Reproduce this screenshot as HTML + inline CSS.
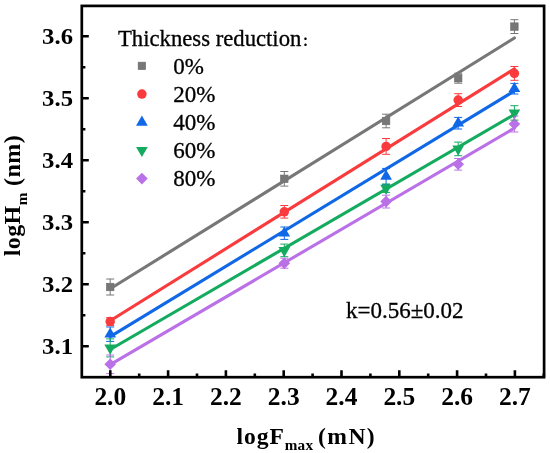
<!DOCTYPE html>
<html><head><meta charset="utf-8"><title>logHm vs logFmax</title>
<style>html,body{margin:0;padding:0;background:#fff}svg{display:block}text{font-family:"Liberation Serif",serif;fill:#000}.b{font-weight:bold}.r{stroke:#000;stroke-width:0.3px}.cj{font-family:"Liberation Sans","Noto Sans CJK SC",sans-serif}</style></head><body>
<svg width="550" height="453" viewBox="0 0 550 453">
<rect width="550" height="453" fill="#fff"/>
<rect x="106.45" y="283.25" width="7.50" height="7.50" fill="#777777" stroke="#6b6b6b" stroke-width="0.6"/>
<rect x="280.55" y="175.05" width="7.50" height="7.50" fill="#777777" stroke="#6b6b6b" stroke-width="0.6"/>
<rect x="382.35" y="117.25" width="7.50" height="7.50" fill="#777777" stroke="#6b6b6b" stroke-width="0.6"/>
<rect x="454.45" y="74.45" width="7.50" height="7.50" fill="#777777" stroke="#6b6b6b" stroke-width="0.6"/>
<rect x="510.65" y="22.85" width="7.50" height="7.50" fill="#777777" stroke="#6b6b6b" stroke-width="0.6"/>
<circle cx="110.20" cy="321.60" r="4.75" fill="#FA3B3D"/>
<circle cx="284.30" cy="211.80" r="4.75" fill="#FA3B3D"/>
<circle cx="386.10" cy="146.40" r="4.75" fill="#FA3B3D"/>
<circle cx="458.20" cy="100.10" r="4.75" fill="#FA3B3D"/>
<circle cx="514.40" cy="73.40" r="4.75" fill="#FA3B3D"/>
<polygon points="110.20,327.40 116.05,337.60 104.35,337.60" fill="#1068E6"/>
<polygon points="284.30,226.40 290.15,236.60 278.45,236.60" fill="#1068E6"/>
<polygon points="386.10,169.60 391.95,179.80 380.25,179.80" fill="#1068E6"/>
<polygon points="458.20,116.40 464.05,126.60 452.35,126.60" fill="#1068E6"/>
<polygon points="514.40,81.90 520.25,92.10 508.55,92.10" fill="#1068E6"/>
<polygon points="110.20,354.70 116.05,344.50 104.35,344.50" fill="#14AB5F"/>
<polygon points="284.30,257.20 290.15,247.00 278.45,247.00" fill="#14AB5F"/>
<polygon points="386.10,195.00 391.95,184.80 380.25,184.80" fill="#14AB5F"/>
<polygon points="458.20,155.70 464.05,145.50 452.35,145.50" fill="#14AB5F"/>
<polygon points="514.40,119.70 520.25,109.50 508.55,109.50" fill="#14AB5F"/>
<polygon points="110.20,358.50 116.00,364.30 110.20,370.10 104.40,364.30" fill="#BA70E6"/>
<polygon points="284.30,257.40 290.10,263.20 284.30,269.00 278.50,263.20" fill="#BA70E6"/>
<polygon points="386.10,195.80 391.90,201.60 386.10,207.40 380.30,201.60" fill="#BA70E6"/>
<polygon points="458.20,158.50 464.00,164.30 458.20,170.10 452.40,164.30" fill="#BA70E6"/>
<polygon points="514.40,118.20 520.20,124.00 514.40,129.80 508.60,124.00" fill="#BA70E6"/>
<path d="M110.20 279.00V295.00M106.20 279.00h8M106.20 295.00h8M284.30 171.50V186.10M280.30 171.50h8M280.30 186.10h8M386.10 114.20V127.80M382.10 114.20h8M382.10 127.80h8M458.20 73.20V83.20M454.20 73.20h8M454.20 83.20h8M514.40 19.70V33.50M510.40 19.70h8M510.40 33.50h8" stroke="#777777" stroke-width="1" fill="none"/>
<path d="M110.20 317.60V325.60M106.20 317.60h8M106.20 325.60h8M284.30 205.50V218.10M280.30 205.50h8M280.30 218.10h8M386.10 138.50V154.30M382.10 138.50h8M382.10 154.30h8M458.20 93.70V106.50M454.20 93.70h8M454.20 106.50h8M514.40 66.50V80.30M510.40 66.50h8M510.40 80.30h8" stroke="#FA3B3D" stroke-width="1" fill="none"/>
<path d="M110.20 327.00V341.40M106.20 327.00h8M106.20 341.40h8M284.30 227.00V239.40M280.30 227.00h8M280.30 239.40h8M386.10 168.40V184.40M382.10 168.40h8M382.10 184.40h8M458.20 117.40V129.00M454.20 117.40h8M454.20 129.00h8M514.40 83.40V94.00M510.40 83.40h8M510.40 94.00h8" stroke="#1068E6" stroke-width="1" fill="none"/>
<path d="M110.20 338.90V356.90M106.20 338.90h8M106.20 356.90h8M284.30 244.10V256.70M280.30 244.10h8M280.30 256.70h8M386.10 184.00V192.40M382.10 184.00h8M382.10 192.40h8M458.20 142.10V155.70M454.20 142.10h8M454.20 155.70h8M514.40 105.70V120.10M510.40 105.70h8M510.40 120.10h8" stroke="#14AB5F" stroke-width="1" fill="none"/>
<path d="M110.20 355.00V373.60M106.20 355.00h8M106.20 373.60h8M284.30 258.20V268.20M280.30 258.20h8M280.30 268.20h8M386.10 195.20V208.00M382.10 195.20h8M382.10 208.00h8M458.20 158.50V170.10M454.20 158.50h8M454.20 170.10h8M514.40 116.00V132.00M510.40 116.00h8M510.40 132.00h8" stroke="#BA70E6" stroke-width="1" fill="none"/>
<line x1="110.20" y1="288.80" x2="514.40" y2="38.00" stroke="#777777" stroke-width="3.1" stroke-linecap="round"/>
<line x1="110.20" y1="320.80" x2="514.40" y2="68.90" stroke="#FA3B3D" stroke-width="3.1" stroke-linecap="round"/>
<line x1="110.20" y1="336.60" x2="514.40" y2="91.00" stroke="#1068E6" stroke-width="3.1" stroke-linecap="round"/>
<line x1="110.20" y1="349.50" x2="514.40" y2="114.50" stroke="#14AB5F" stroke-width="3.1" stroke-linecap="round"/>
<line x1="110.20" y1="364.70" x2="514.40" y2="128.10" stroke="#BA70E6" stroke-width="3.1" stroke-linecap="round"/>
<path d="M110.30 377.2v-7M139.20 377.2v-3.6M168.10 377.2v-7M197.00 377.2v-3.6M225.90 377.2v-7M254.80 377.2v-3.6M283.70 377.2v-7M312.60 377.2v-3.6M341.50 377.2v-7M370.40 377.2v-3.6M399.30 377.2v-7M428.20 377.2v-3.6M457.10 377.2v-7M486.00 377.2v-3.6M514.90 377.2v-7M543.80 377.2v-3.6M81.8 346.30h7M81.8 315.30h3.6M81.8 284.29h7M81.8 253.29h3.6M81.8 222.28h7M81.8 191.28h3.6M81.8 160.27h7M81.8 129.26h3.6M81.8 98.26h7M81.8 67.26h3.6M81.8 36.25h7" stroke="#000" stroke-width="2.6" fill="none"/>
<rect x="81.8" y="5.9" width="462.30" height="371.30" fill="none" stroke="#000" stroke-width="2.7"/>
<text class="b" transform="translate(110.30,404.5) scale(1.04,1)" font-size="24.5" text-anchor="middle">2.0</text>
<text class="b" transform="translate(168.10,404.5) scale(1.04,1)" font-size="24.5" text-anchor="middle">2.1</text>
<text class="b" transform="translate(225.90,404.5) scale(1.04,1)" font-size="24.5" text-anchor="middle">2.2</text>
<text class="b" transform="translate(283.70,404.5) scale(1.04,1)" font-size="24.5" text-anchor="middle">2.3</text>
<text class="b" transform="translate(341.50,404.5) scale(1.04,1)" font-size="24.5" text-anchor="middle">2.4</text>
<text class="b" transform="translate(399.30,404.5) scale(1.04,1)" font-size="24.5" text-anchor="middle">2.5</text>
<text class="b" transform="translate(457.10,404.5) scale(1.04,1)" font-size="24.5" text-anchor="middle">2.6</text>
<text class="b" transform="translate(514.90,404.5) scale(1.04,1)" font-size="24.5" text-anchor="middle">2.7</text>
<text class="b" transform="translate(73.0,354.10) scale(1.03,1)" font-size="24" text-anchor="end">3.1</text>
<text class="b" transform="translate(73.0,292.09) scale(1.03,1)" font-size="24" text-anchor="end">3.2</text>
<text class="b" transform="translate(73.0,230.08) scale(1.03,1)" font-size="24" text-anchor="end">3.3</text>
<text class="b" transform="translate(73.0,168.07) scale(1.03,1)" font-size="24" text-anchor="end">3.4</text>
<text class="b" transform="translate(73.0,106.06) scale(1.03,1)" font-size="24" text-anchor="end">3.5</text>
<text class="b" transform="translate(73.0,44.05) scale(1.03,1)" font-size="24" text-anchor="end">3.6</text>
<text class="b" x="236.6" y="443.6" font-size="23.6" letter-spacing="0.9">logF<tspan font-size="15.2" dy="6" letter-spacing="0.2">max</tspan><tspan dy="-6" dx="-2.4" letter-spacing="1.4"> (mN)</tspan></text>
<text class="b" transform="translate(20,256.3) rotate(-90)" font-size="24" letter-spacing="0.4">logH<tspan font-size="15.2" dy="7">m</tspan><tspan dy="-7"> (nm)</tspan></text>
<text class="r" x="118" y="46" font-size="22.7">Thickness reduction</text><text class="cj" x="302.6" y="46.2" font-size="12" font-weight="900">：</text>
<rect x="138.15" y="62.15" width="7.50" height="7.50" fill="#777777" stroke="#6b6b6b" stroke-width="0.6"/>
<text class="r" x="173.3" y="73.70" font-size="23">0%</text>
<circle cx="141.90" cy="94.10" r="4.75" fill="#FA3B3D"/>
<text class="r" x="173.3" y="101.90" font-size="23">20%</text>
<polygon points="141.90,115.50 147.75,125.70 136.05,125.70" fill="#1068E6"/>
<text class="r" x="173.3" y="130.10" font-size="23">40%</text>
<polygon points="141.90,157.10 147.75,146.90 136.05,146.90" fill="#14AB5F"/>
<text class="r" x="173.3" y="158.10" font-size="23">60%</text>
<polygon points="141.90,172.80 147.70,178.60 141.90,184.40 136.10,178.60" fill="#BA70E6"/>
<text class="r" x="173.3" y="186.40" font-size="23">80%</text>
<text class="r" x="346" y="317.5" font-size="23">k=0.56±0.02</text>
</svg></body></html>
